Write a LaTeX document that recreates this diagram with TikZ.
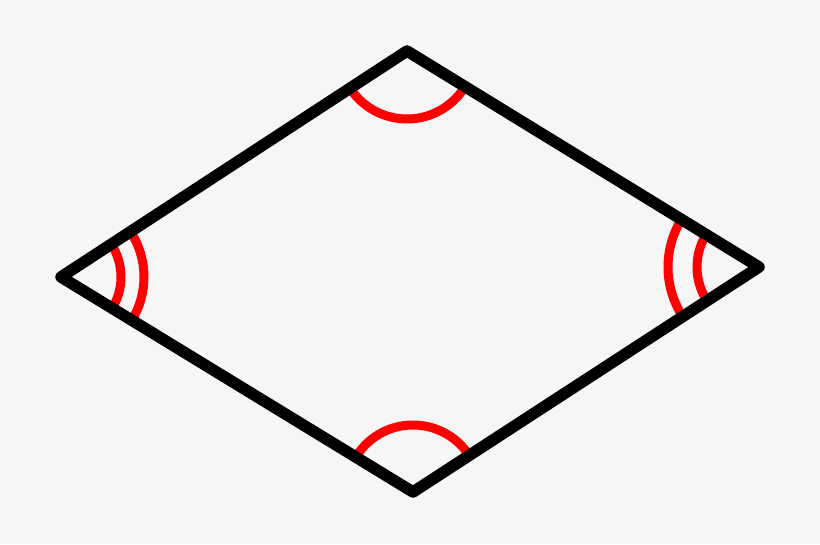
\documentclass[tikz,border=0pt]{standalone}
\usetikzlibrary{angles}
\definecolor{fond}{HTML}{F6F6F6}
\tikzset{
  cote/.style={line width=11.5pt,line join=round,black},
  arcangle/.style={draw=red,line width=9pt}
}
\begin{document}
\begin{tikzpicture}[x=1pt,y=1pt]
    % Fond
    \fill[fond] (0,0) rectangle (820,544);
    \useasboundingbox (0,0) rectangle (820,544);

    % Sommets
    \coordinate (T) at (407,493);
    \coordinate (R) at (759,277);
    \coordinate (B) at (413,52);
    \coordinate (L) at (61,267);

    % Angles
    \pic[arcangle,angle radius=68pt] {angle=L--T--R};
    \pic[arcangle,angle radius=67pt] {angle=R--B--L};
    \pic[arcangle,angle radius=60pt] {angle=B--L--T};
    \pic[arcangle,angle radius=83pt] {angle=B--L--T};
    \pic[arcangle,angle radius=62pt] {angle=T--R--B};
    \pic[arcangle,angle radius=91pt] {angle=T--R--B};

    % Losange
    \draw[cote] (T) -- (R) -- (B) -- (L) -- cycle;
\end{tikzpicture}
\end{document}
